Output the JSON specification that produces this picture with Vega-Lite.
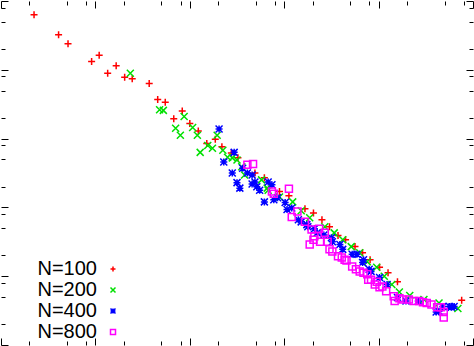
{
  "$schema": "https://vega.github.io/schema/vega-lite/v6.json",
  "width": 474,
  "height": 346,
  "autosize": {"type": "fit", "contains": "padding"},
  "padding": 0,
  "background": "white",
  "config": {
    "view": {"stroke": null},
    "axis": {"labels": false, "domain": false, "grid": false, "title": null, "tickColor": "#000000", "tickWidth": 1}
  },
  "data": {"values": [
    {"N":"N=100","x":0.35,"y":4.80},{"N":"N=100","x":0.61,"y":4.51},{"N":"N=100","x":0.71,"y":4.38},{"N":"N=100","x":0.96,"y":4.12},
    {"N":"N=100","x":1.04,"y":4.21},{"N":"N=100","x":1.13,"y":3.95},{"N":"N=100","x":1.22,"y":4.06},{"N":"N=100","x":1.31,"y":3.89},
    {"N":"N=100","x":1.39,"y":3.87},{"N":"N=100","x":1.57,"y":3.80},{"N":"N=100","x":1.66,"y":3.57},{"N":"N=100","x":1.74,"y":3.53},
    {"N":"N=100","x":1.92,"y":3.40},{"N":"N=100","x":1.83,"y":3.29},{"N":"N=100","x":2.00,"y":3.22},{"N":"N=100","x":2.09,"y":3.11},
    {"N":"N=100","x":2.27,"y":2.99},{"N":"N=100","x":2.18,"y":2.93},{"N":"N=100","x":2.34,"y":2.88},{"N":"N=100","x":2.44,"y":2.79},
    {"N":"N=100","x":2.51,"y":2.72},{"N":"N=100","x":2.69,"y":2.50},{"N":"N=100","x":2.79,"y":2.43},{"N":"N=100","x":2.95,"y":2.23},
    {"N":"N=100","x":3.05,"y":2.17},{"N":"N=100","x":3.22,"y":1.98},{"N":"N=100","x":3.31,"y":1.92},{"N":"N=100","x":3.40,"y":1.82},
    {"N":"N=100","x":3.48,"y":1.72},{"N":"N=100","x":3.57,"y":1.59},{"N":"N=100","x":3.65,"y":1.53},{"N":"N=100","x":3.75,"y":1.43},
    {"N":"N=100","x":3.83,"y":1.34},{"N":"N=100","x":3.91,"y":1.24},{"N":"N=100","x":4.01,"y":1.13},{"N":"N=100","x":4.10,"y":1.05},
    {"N":"N=100","x":4.20,"y":0.92},{"N":"N=100","x":4.88,"y":0.65},
    {"N":"N=200","x":1.37,"y":3.95},{"N":"N=200","x":1.68,"y":3.42},{"N":"N=200","x":1.72,"y":3.41},{"N":"N=200","x":1.94,"y":3.32},
    {"N":"N=200","x":1.85,"y":3.15},{"N":"N=200","x":1.90,"y":3.05},{"N":"N=200","x":2.03,"y":3.16},{"N":"N=200","x":2.08,"y":3.05},
    {"N":"N=200","x":2.11,"y":2.80},{"N":"N=200","x":2.19,"y":2.90},{"N":"N=200","x":2.24,"y":2.86},{"N":"N=200","x":2.29,"y":3.05},
    {"N":"N=200","x":2.35,"y":2.83},{"N":"N=200","x":2.40,"y":2.73},{"N":"N=200","x":2.45,"y":2.72},{"N":"N=200","x":2.50,"y":2.69},
    {"N":"N=200","x":2.55,"y":2.59},{"N":"N=200","x":2.58,"y":2.47},{"N":"N=200","x":2.76,"y":2.40},{"N":"N=200","x":2.82,"y":2.28},
    {"N":"N=200","x":2.83,"y":2.25},{"N":"N=200","x":2.95,"y":2.15},{"N":"N=200","x":3.09,"y":2.08},{"N":"N=200","x":3.18,"y":1.95},
    {"N":"N=200","x":3.27,"y":1.85},{"N":"N=200","x":3.43,"y":1.72},{"N":"N=200","x":3.53,"y":1.63},{"N":"N=200","x":3.62,"y":1.53},
    {"N":"N=200","x":3.71,"y":1.43},{"N":"N=200","x":3.80,"y":1.34},{"N":"N=200","x":3.88,"y":1.21},{"N":"N=200","x":3.98,"y":1.13},
    {"N":"N=200","x":4.06,"y":1.00},{"N":"N=200","x":4.14,"y":0.88},{"N":"N=200","x":4.22,"y":0.77},{"N":"N=200","x":4.33,"y":0.72},
    {"N":"N=200","x":4.48,"y":0.66},{"N":"N=200","x":4.64,"y":0.61},{"N":"N=200","x":4.84,"y":0.53},
    {"N":"N=400","x":2.31,"y":3.14},{"N":"N=400","x":2.47,"y":2.80},{"N":"N=400","x":2.36,"y":2.66},{"N":"N=400","x":2.45,"y":2.50},
    {"N":"N=400","x":2.50,"y":2.36},{"N":"N=400","x":2.53,"y":2.28},{"N":"N=400","x":2.56,"y":2.57},{"N":"N=400","x":2.61,"y":2.50},
    {"N":"N=400","x":2.66,"y":2.47},{"N":"N=400","x":2.66,"y":2.34},{"N":"N=400","x":2.69,"y":2.37},{"N":"N=400","x":2.71,"y":2.30},
    {"N":"N=400","x":2.74,"y":2.25},{"N":"N=400","x":2.83,"y":2.37},{"N":"N=400","x":2.87,"y":2.33},{"N":"N=400","x":2.79,"y":2.08},
    {"N":"N=400","x":2.89,"y":2.11},{"N":"N=400","x":2.93,"y":2.14},{"N":"N=400","x":3.01,"y":2.07},{"N":"N=400","x":3.03,"y":1.97},
    {"N":"N=400","x":3.08,"y":1.99},{"N":"N=400","x":3.15,"y":1.82},{"N":"N=400","x":3.18,"y":1.79},{"N":"N=400","x":3.24,"y":1.75},
    {"N":"N=400","x":3.25,"y":1.72},{"N":"N=400","x":3.32,"y":1.69},{"N":"N=400","x":3.35,"y":1.63},{"N":"N=400","x":3.42,"y":1.60},
    {"N":"N=400","x":3.50,"y":1.56},{"N":"N=400","x":3.51,"y":1.50},{"N":"N=400","x":3.59,"y":1.46},{"N":"N=400","x":3.62,"y":1.39},
    {"N":"N=400","x":3.72,"y":1.32},{"N":"N=400","x":3.77,"y":1.32},{"N":"N=400","x":3.84,"y":1.24},{"N":"N=400","x":3.83,"y":1.20},
    {"N":"N=400","x":3.90,"y":1.10},{"N":"N=400","x":3.92,"y":1.07},{"N":"N=400","x":4.01,"y":0.98},{"N":"N=400","x":4.09,"y":0.88},
    {"N":"N=400","x":4.20,"y":0.69},{"N":"N=400","x":4.29,"y":0.64},{"N":"N=400","x":4.42,"y":0.64},{"N":"N=400","x":4.61,"y":0.48},
    {"N":"N=400","x":4.64,"y":0.49},{"N":"N=400","x":4.68,"y":0.56},{"N":"N=400","x":4.75,"y":0.56},{"N":"N=400","x":4.77,"y":0.55},
    {"N":"N=400","x":4.80,"y":0.56},
    {"N":"N=800","x":2.61,"y":2.62},{"N":"N=800","x":2.67,"y":2.63},{"N":"N=800","x":2.87,"y":2.23},{"N":"N=800","x":2.89,"y":2.20},
    {"N":"N=800","x":3.05,"y":2.27},{"N":"N=800","x":3.08,"y":1.86},{"N":"N=800","x":3.14,"y":1.94},{"N":"N=800","x":3.22,"y":1.79},
    {"N":"N=800","x":3.27,"y":1.46},{"N":"N=800","x":3.29,"y":1.68},{"N":"N=800","x":3.31,"y":1.53},{"N":"N=800","x":3.37,"y":1.69},
    {"N":"N=800","x":3.32,"y":1.58},{"N":"N=800","x":3.43,"y":1.63},{"N":"N=800","x":3.38,"y":1.50},{"N":"N=800","x":3.46,"y":1.50},
    {"N":"N=800","x":3.48,"y":1.39},{"N":"N=800","x":3.51,"y":1.36},{"N":"N=800","x":3.57,"y":1.29},{"N":"N=800","x":3.61,"y":1.27},
    {"N":"N=800","x":3.64,"y":1.24},{"N":"N=800","x":3.66,"y":1.23},{"N":"N=800","x":3.72,"y":1.14},{"N":"N=800","x":3.76,"y":1.10},
    {"N":"N=800","x":3.80,"y":1.07},{"N":"N=800","x":3.84,"y":1.05},{"N":"N=800","x":3.88,"y":1.03},{"N":"N=800","x":3.89,"y":0.95},
    {"N":"N=800","x":3.92,"y":0.95},{"N":"N=800","x":3.96,"y":0.88},{"N":"N=800","x":3.98,"y":0.92},{"N":"N=800","x":4.01,"y":0.84},
    {"N":"N=800","x":4.04,"y":0.85},{"N":"N=800","x":4.08,"y":0.78},{"N":"N=800","x":4.16,"y":0.71},{"N":"N=800","x":4.17,"y":0.64},
    {"N":"N=800","x":4.22,"y":0.68},{"N":"N=800","x":4.26,"y":0.66},{"N":"N=800","x":4.32,"y":0.66},{"N":"N=800","x":4.37,"y":0.64},
    {"N":"N=800","x":4.43,"y":0.64},{"N":"N=800","x":4.47,"y":0.62},{"N":"N=800","x":4.51,"y":0.61},{"N":"N=800","x":4.56,"y":0.59},
    {"N":"N=800","x":4.62,"y":0.55},{"N":"N=800","x":4.66,"y":0.55},{"N":"N=800","x":4.69,"y":0.48},{"N":"N=800","x":4.69,"y":0.40}
  ]},
  "layer": [
    {
      "mark": {"type": "point", "filled": false, "strokeWidth": 1.5, "size": 49, "opacity": 1},
      "encoding": {
        "x": {"field": "x", "type": "quantitative", "scale": {"domain": [0, 5], "nice": false, "zero": false},
          "axis": {"orient": "bottom", "values": [0,0.301,0.699,0.903,1,1.301,1.699,1.903,2,2.301,2.699,2.903,3,3.301,3.699,3.903,4,4.301,4.699,4.903,5],
            "tickSize": {"condition": {"test": "abs(datum.value - round(datum.value)) < 0.001", "value": -7}, "value": -4}}},
        "y": {"field": "y", "type": "quantitative", "scale": {"domain": [0, 5], "nice": false, "zero": false},
          "axis": {"orient": "left", "values": [0,0.301,0.699,0.903,1,1.301,1.699,1.903,2,2.301,2.699,2.903,3,3.301,3.699,3.903,4,4.301,4.699,4.903,5],
            "tickSize": {"condition": {"test": "abs(datum.value - round(datum.value)) < 0.001", "value": -7}, "value": -4}}},
        "color": {"field": "N", "type": "nominal",
          "scale": {"domain": ["N=100","N=200","N=400","N=800"], "range": ["#ff0000","#00e000","#0000ff","#ff00ff"]},
          "legend": {"orient": "none", "legendX": 102, "legendY": 258, "title": null, "labelFont": "Liberation Sans", "labelFontSize": 20,
            "labelColor": "#000000", "labelAlign": "right", "labelOffset": -26, "symbolSize": 25, "symbolStrokeWidth": 1.5, "rowPadding": 1, "padding": 0}},
        "shape": {"field": "N", "type": "nominal",
          "scale": {"domain": ["N=100","N=200","N=400","N=800"],
            "range": ["M-1,0L1,0M0,-1L0,1", "M-1,-1L1,1M-1,1L1,-1", "M-1,0L1,0M0,-1L0,1M-1,-1L1,1M-1,1L1,-1", "M-1,-1L1,-1L1,1L-1,1Z"]}}
      }
    },
    {
      "mark": {"type": "point", "opacity": 0},
      "encoding": {
        "x": {"field": "x", "type": "quantitative", "scale": {"domain": [0, 5], "nice": false, "zero": false},
          "axis": {"orient": "top", "values": [0,0.301,0.699,0.903,1,1.301,1.699,1.903,2,2.301,2.699,2.903,3,3.301,3.699,3.903,4,4.301,4.699,4.903,5],
            "tickSize": {"condition": {"test": "abs(datum.value - round(datum.value)) < 0.001", "value": -7}, "value": -4}}},
        "y": {"field": "y", "type": "quantitative", "scale": {"domain": [0, 5], "nice": false, "zero": false},
          "axis": {"orient": "right", "values": [0,0.301,0.699,0.903,1,1.301,1.699,1.903,2,2.301,2.699,2.903,3,3.301,3.699,3.903,4,4.301,4.699,4.903,5],
            "tickSize": {"condition": {"test": "abs(datum.value - round(datum.value)) < 0.001", "value": -7}, "value": -4}}}
      }
    }
  ],
  "resolve": {"axis": {"x": "independent", "y": "independent"}}
}
